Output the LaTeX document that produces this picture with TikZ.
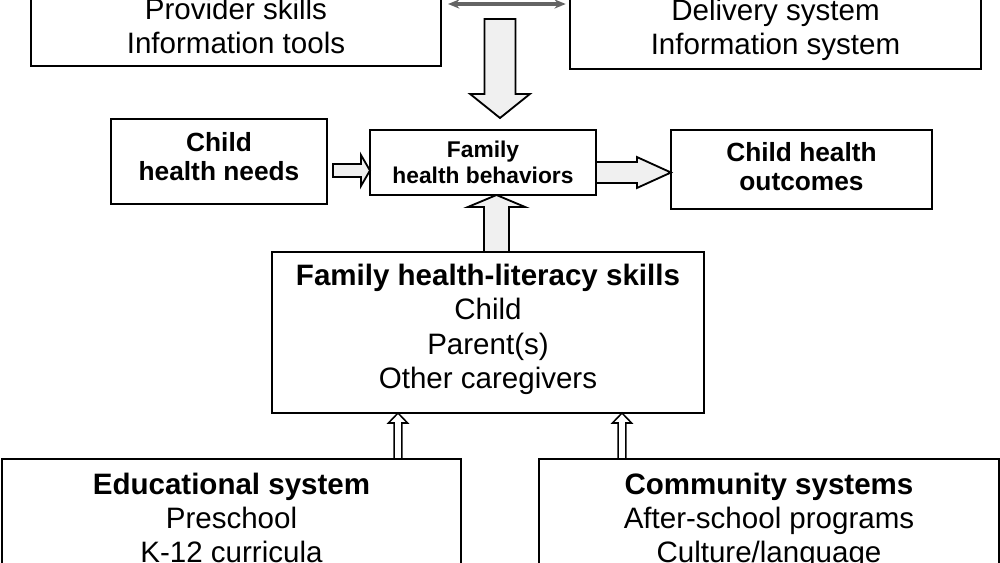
\documentclass[tikz,border=0pt]{standalone}
\usepackage{fontspec}
\setmainfont{Liberation Sans}
\usepackage{tikz}
\usetikzlibrary{calc,arrows.meta}
\definecolor{linkgray}{RGB}{100,100,100}
\newcommand{\hollowarrow}[6]{%
  \path #2 coordinate (ha-s) #3 coordinate (ha-t);
  \coordinate (ha-b) at ($(ha-t)!#6!(ha-s)$);
  \draw[#1] ($(ha-s)!#4!90:(ha-t)$) -- ($(ha-b)!#4!90:(ha-t)$) -- ($(ha-b)!#5!90:(ha-t)$) -- (ha-t)
    -- ($(ha-b)!#5!-90:(ha-t)$) -- ($(ha-b)!#4!-90:(ha-t)$) -- ($(ha-s)!#4!-90:(ha-t)$) -- cycle;
}

\begin{document}
\begin{tikzpicture}[x=0.025cm, y=-0.025cm,
    box/.style={draw, line width=1.4pt, inner sep=0pt, outer sep=0pt, align=center, text depth=0pt},
    tx/.style={text height=#1},
    bodytxt/.style={font=\fontsize{21}{24.4}\selectfont},
    keytxt/.style={font=\fontsize{18.7}{21}\selectfont\bfseries},
    hubtxt/.style={font=\fontsize{16.2}{18.5}\selectfont\bfseries},
    fat/.style={draw, line width=1.3pt, fill=gray!12},
    thin/.style={draw, line width=1.1pt, fill=white},
    link/.style={draw=linkgray, line width=2.2pt, {Stealth[length=8pt,width=6.5pt]}-{Stealth[length=8pt,width=6.5pt]}}]
  \useasboundingbox (0,0) rectangle (1000,562);
  \clip (0,0) rectangle (1000,562);

  \node [box, bodytxt, tx=49.8pt, minimum width=10.25cm, minimum height=2.385cm] (prov) at (236,18.3)
    {Provider skills\\Information tools};
  \node [box, bodytxt, tx=51.2pt, minimum width=10.275cm, minimum height=2.525cm] (deliv) at (775.5,18.5)
    {Delivery system\\Information system};
  \node [box, keytxt, tx=27.7pt, minimum width=5.4cm, minimum height=2.125cm] (chn) at (219,161.5)
    {Child\\health needs};
  \node [box, hubtxt, tx=29.6pt, minimum width=5.65cm, minimum height=1.625cm] (fhb) at (483,162.5)
    {Family\\health behaviors};
  \node [box, keytxt, tx=30.2pt, minimum width=6.525cm, minimum height=1.975cm] (cho) at (801.5,169.5)
    {Child health\\outcomes};
  \node [box, bodytxt, tx=79.4pt, minimum width=10.8cm, minimum height=4.025cm] (fls) at (488,332.5)
    {\textbf{Family health-literacy skills}\\Child\\Parent(s)\\Other caregivers};
  \node [box, bodytxt, tx=19pt, minimum width=11.475cm, minimum height=4.525cm] (edu) at (231.5,549.5)
    {\textbf{Educational system}\\Preschool\\K-12 curricula};
  \node [box, bodytxt, tx=19pt, minimum width=11.5cm, minimum height=4.525cm] (comm) at (769,549.5)
    {\textbf{Community systems}\\After-school programs\\Culture/language};

  \coordinate (row) at (0,4);
  \coordinate (dsrc) at (500,19);
  \coordinate (lvl1) at (0,170.5);
  \coordinate (lvl2) at (0,172.5);
  \coordinate (col1) at (496.5,0);
  \coordinate (col2) at (398,0);
  \coordinate (col3) at (622,0);

  \draw [link, shorten <=5pt, shorten >=3pt] (prov.east |- row) -- (deliv.west |- row);
  \hollowarrow{fat}{(dsrc)}{($(fhb.north -| dsrc)+(0,-12)$)}{11pt}{21.3pt}{17.1pt}
  \hollowarrow{fat}{($(chn.east |- lvl1)+(6,0)$)}{(fhb.west |- lvl1)}{4.6pt}{11pt}{6.4pt}
  \hollowarrow{fat}{(fhb.east |- lvl2)}{(cho.west |- lvl2)}{7.5pt}{11pt}{24.2pt}
  \hollowarrow{fat}{(fls.north -| col1)}{(fhb.south -| col1)}{8.9pt}{20.3pt}{8.5pt}
  \hollowarrow{thin}{(edu.north -| col2)}{(fls.south -| col2)}{2.8pt}{6.8pt}{7.1pt}
  \hollowarrow{thin}{(comm.north -| col3)}{(fls.south -| col3)}{2.8pt}{6.8pt}{7.1pt}
\end{tikzpicture}
\end{document}
